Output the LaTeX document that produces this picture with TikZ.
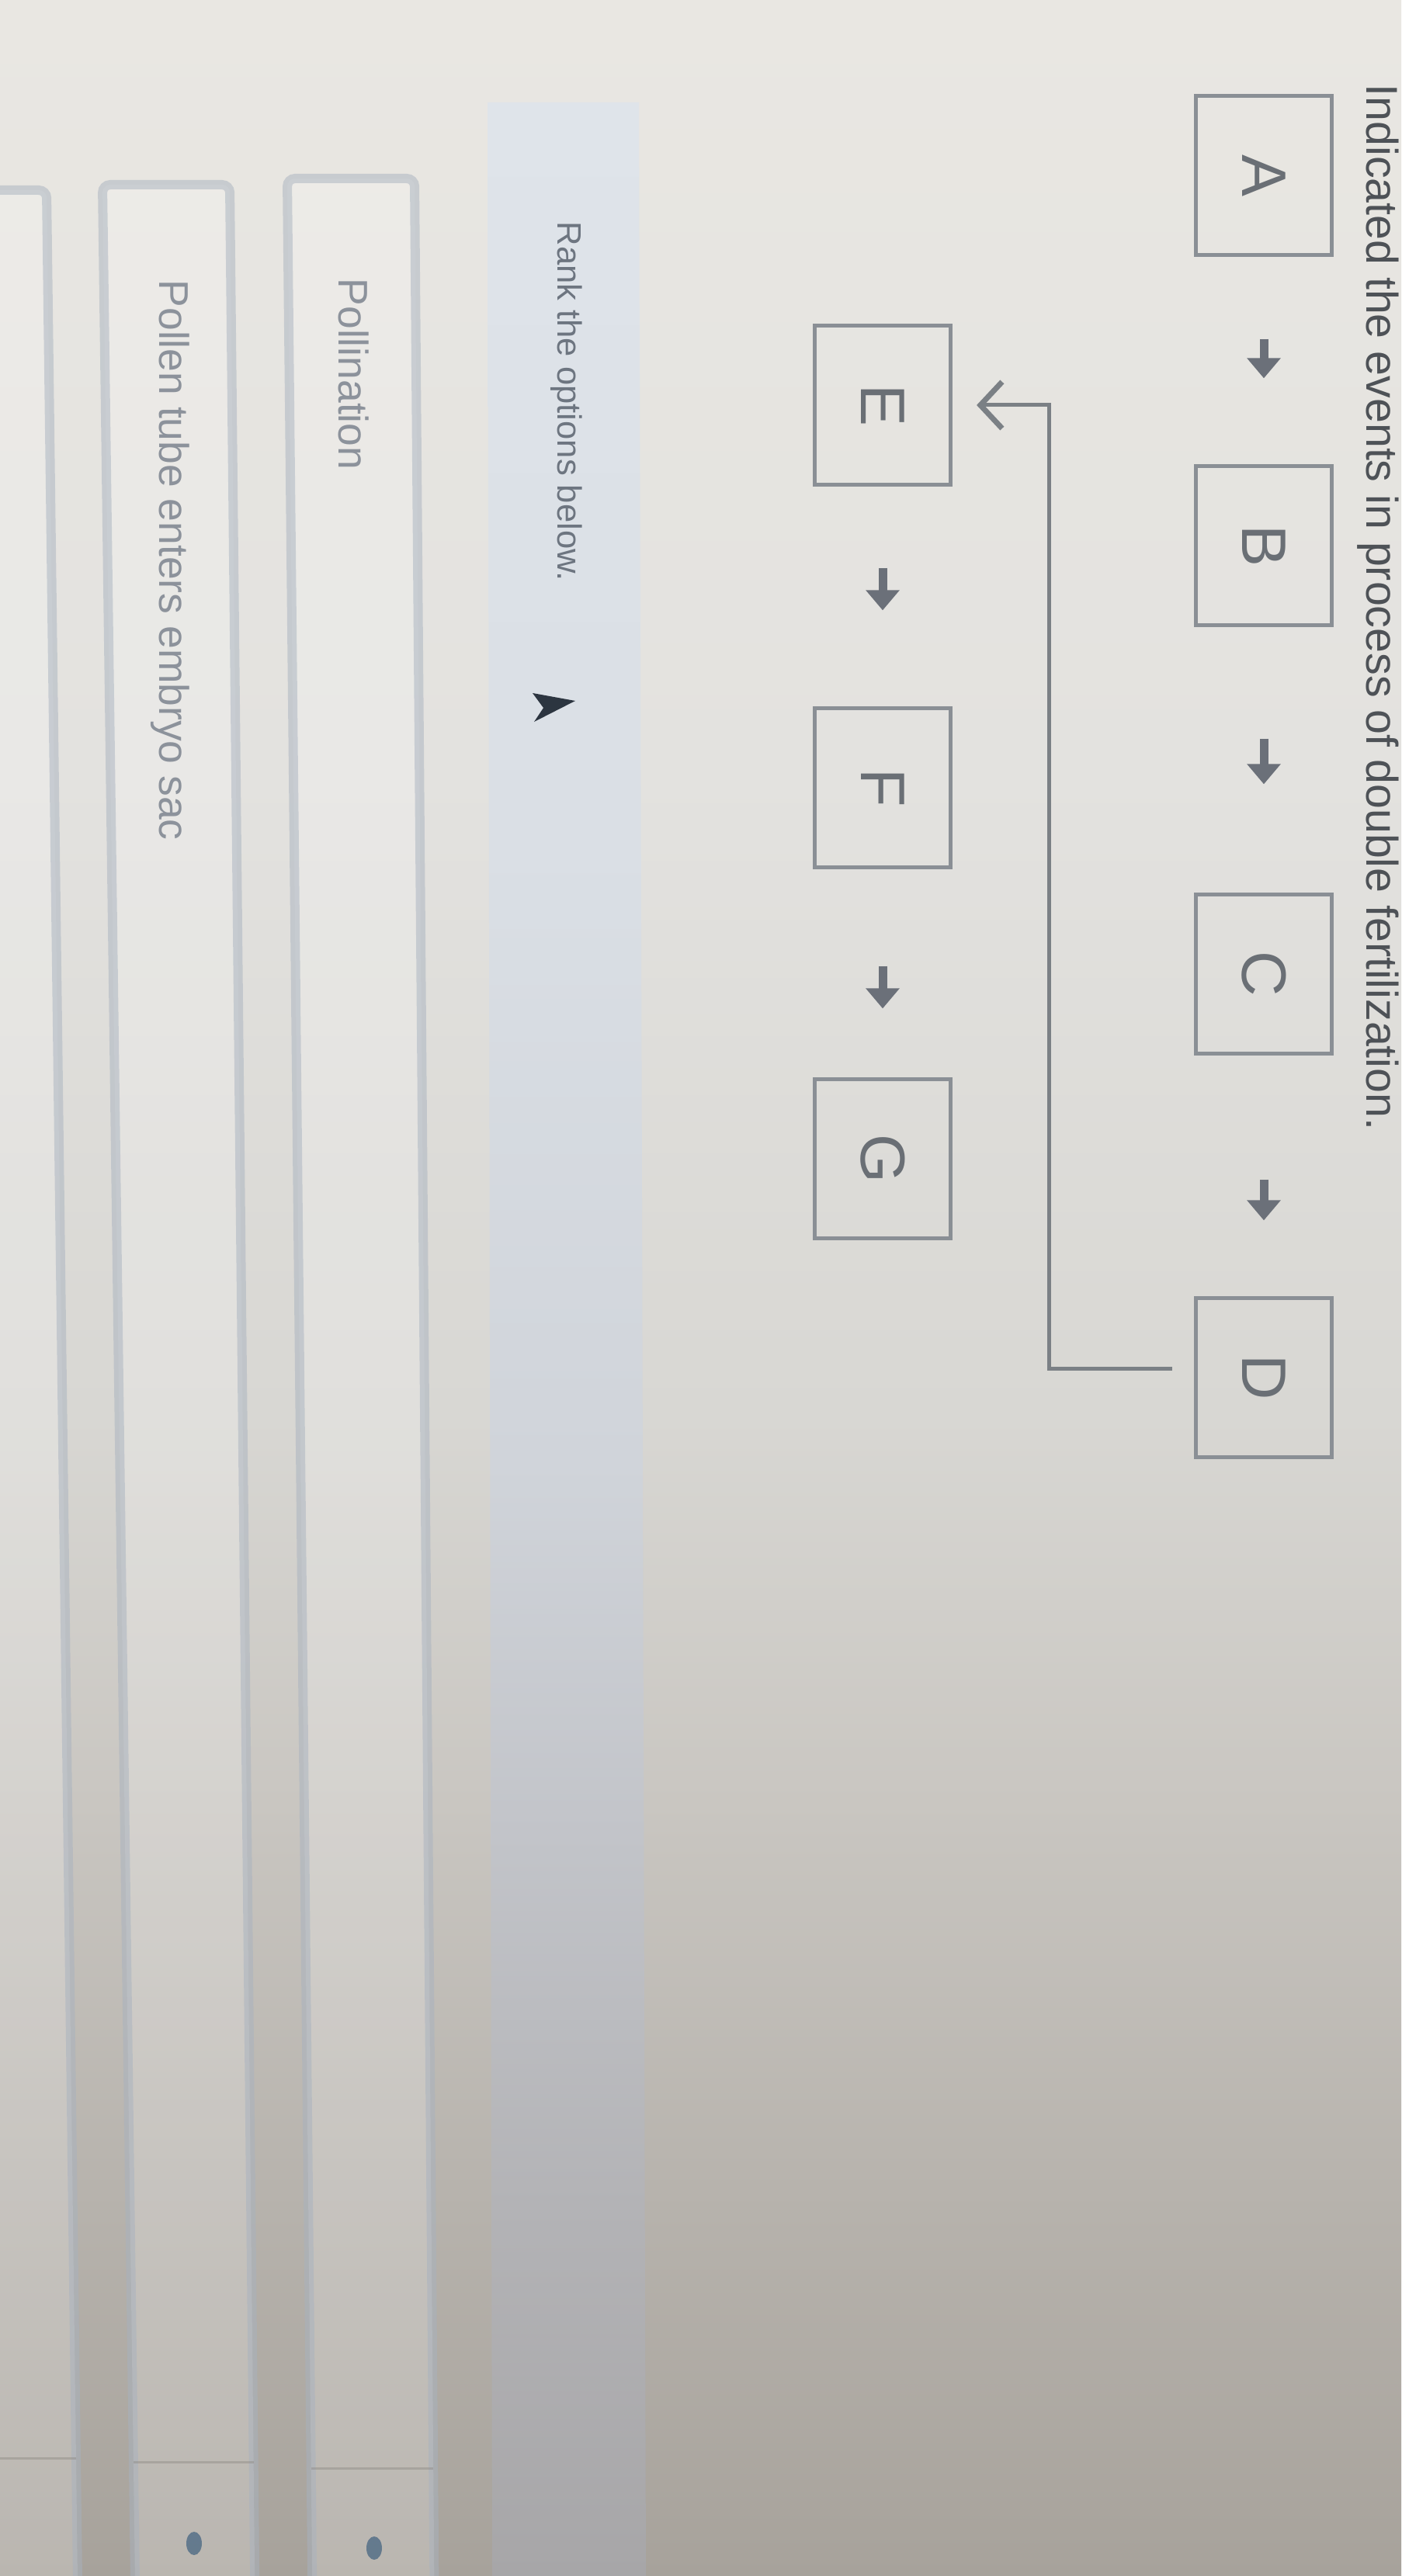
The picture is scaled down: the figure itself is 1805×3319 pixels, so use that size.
\documentclass[tikz,border=0pt]{standalone}
\usepackage{fontspec}
\usepackage{graphicx}
\setmainfont{Liberation Sans}
\usetikzlibrary{arrows.meta,calc}
\definecolor{bgA}{HTML}{E9E7E2}
\definecolor{bgB}{HTML}{E3E2DF}
\definecolor{bgC}{HTML}{D8D7D3}
\definecolor{bgD}{HTML}{C9C6C1}
\definecolor{bgE}{HTML}{B7B3AD}
\definecolor{bgF}{HTML}{A7A29B}
\definecolor{pnA}{HTML}{DFE4EA}
\definecolor{pnB}{HTML}{DADFE5}
\definecolor{pnC}{HTML}{D0D4DA}
\definecolor{pnD}{HTML}{C2C4C9}
\definecolor{pnE}{HTML}{B3B3B6}
\definecolor{pnF}{HTML}{A7A6A8}
\definecolor{boxgray}{HTML}{8A8F95}
\definecolor{lettergray}{HTML}{6A6F75}
\definecolor{arrowgray}{HTML}{6B7079}
\definecolor{linegray}{HTML}{7B8085}
\definecolor{titlegray}{HTML}{4E5257}
\definecolor{rankgray}{HTML}{6D7580}
\definecolor{optgray}{HTML}{8C929B}
\definecolor{optborder}{HTML}{A8B2BF}
\definecolor{sepgray}{HTML}{8E8A84}
\definecolor{dotblue}{HTML}{4F6B85}
\definecolor{cursorc}{HTML}{2C3540}
\pgfdeclareverticalshading{photobg}{100bp}{color(0bp)=(bgF); color(25bp)=(bgF); color(32.5bp)=(bgE); color(40bp)=(bgD); color(47.5bp)=(bgC); color(60bp)=(bgB); color(75bp)=(bgA); color(100bp)=(bgA)}
\pgfdeclareverticalshading{panelbg}{100bp}{color(0bp)=(pnF); color(25bp)=(pnF); color(32.5bp)=(pnE); color(40bp)=(pnD); color(47.5bp)=(pnC); color(60bp)=(pnB); color(75bp)=(pnA); color(100bp)=(pnA)}
\begin{document}
\begin{tikzpicture}[x=0.01cm,y=-0.01cm,
  letterbox/.style={draw=boxgray, line width=0.05cm, minimum width=1.75cm, minimum height=2.04cm, inner sep=0pt, font=\fontsize{23}{23}\selectfont, text=lettergray},
  darr/.style={draw=arrowgray, line width=0.11cm, -{Triangle[length=0.26cm,width=0.42cm]}},
  conn/.style={draw=linegray, line width=0.05cm},
  titletext/.style={rotate=-90, anchor=base west, inner sep=0pt, text=titlegray, font=\fontsize{16.3}{18}\selectfont},
  ranktext/.style={rotate=-90, anchor=base west, inner sep=0pt, text=rankgray, font=\fontsize{12.4}{15}\selectfont},
  opttext/.style={rotate=-90, anchor=base west, inner sep=0pt, text=optgray, font=\fontsize{15.2}{17}\selectfont},
  optbox/.style={rounded corners=0.1cm, fill=white, fill opacity=0.22, draw=optborder, draw opacity=0.5, line width=0.12cm},
  sepline/.style={draw=sepgray, draw opacity=0.45, line width=0.03cm},
  handle/.style={fill=dotblue, fill opacity=0.8}
]
\useasboundingbox (0,0) rectangle (1805,3319);
\clip (0,0) rectangle (1805,3319);
% photographed screen background
\shade[shading=photobg] (0,0) rectangle (1805,3319);
% light blue side panel
\shade[shading=panelbg] (628,132) -- (823,132) -- (832,3319) -- (634,3319) -- cycle;
% option boxes
\path[optbox] (403,3400) -- (370,230) -- (534,230) -- (560,3400);
\path[optbox] (175,3400) -- (132,238) -- (296,238) -- (329,3400);
\path[optbox] (-60,3400) -- (-100,245) -- (60,245) -- (101,3400);
\draw[sepline] (401,3180) -- (558,3180);
\draw[sepline] (172,3172) -- (327,3172);
\draw[sepline] (-60,3167) -- (98,3167);
\fill[handle] (482,3283) ellipse [x radius=10, y radius=15];
\fill[handle] (250,3277) ellipse [x radius=10, y radius=15];
% texts
\node[titletext] (title) at (1760,108) {Indicated the events in process of double fertilization.};
\node[ranktext] (rank) at (718,285) {Rank the options below.};
\node[opttext] (opt1) at (436,358) {Pollination};
\node[opttext] (opt2) at (205,360) {Pollen tube enters embryo sac};
% mouse cursor
\fill[cursorc] (741,903) -- (686,893) -- (700,912) -- (688,930) -- cycle;
% boxes
\node[letterbox] (A) at (1628,226) {\rotatebox{-90}{A}};
\node[letterbox] (B) at (1628,703) {\rotatebox{-90}{B}};
\node[letterbox] (C) at (1628,1255) {\rotatebox{-90}{C}};
\node[letterbox] (D) at (1628,1775) {\rotatebox{-90}{D}};
\node[letterbox] (E) at (1137,522) {\rotatebox{-90}{E}};
\node[letterbox] (F) at (1137,1015) {\rotatebox{-90}{F}};
\node[letterbox] (G) at (1137,1493) {\rotatebox{-90}{G}};
% arrows
\draw[darr, shorten <=1.06cm, shorten >=1.11cm] (A) -- (B);
\draw[darr, shorten <=1.44cm, shorten >=1.40cm] (B) -- (C);
\draw[darr, shorten <=1.60cm, shorten >=0.98cm] (C) -- (D);
\draw[darr, shorten <=1.05cm, shorten >=1.24cm] (E) -- (F);
\draw[darr, shorten <=1.25cm, shorten >=0.89cm] (F) -- (G);
\draw[conn, -{Straight Barb[length=0.28cm,width=0.6cm,line width=0.07cm]}]
  ([xshift=-0.28cm,yshift=0.12cm]D.west) -| ([xshift=1.24cm]E.east) -- ([xshift=0.31cm]E.east);
\end{tikzpicture}
\end{document}
